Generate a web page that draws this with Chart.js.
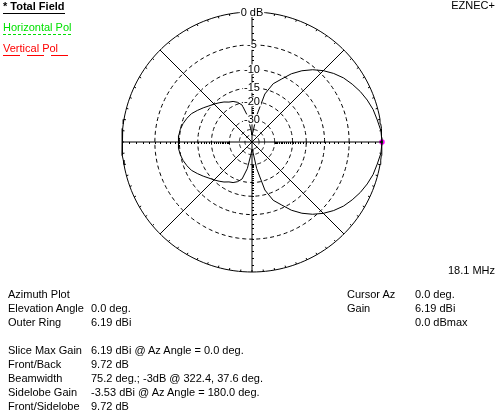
<!DOCTYPE html>
<html>
<head>
<meta charset="utf-8">
<script src="https://cdn.jsdelivr.net/npm/chart.js@4.4.1/dist/chart.umd.min.js"></script>
<style>
body { margin: 0; background: #fff; font-family: "Liberation Sans", Arial, sans-serif; font-size: 11px; color: #000; }
#wrap { position: relative; width: 497px; height: 412px; overflow: hidden; }
#plot { position: absolute; left: 0; top: 0; }
.t { position: absolute; white-space: pre; line-height: 14px; }
</style>
</head>
<body>
<div id="wrap">
  <canvas id="plot" width="497" height="412"></canvas>
  <div id="texts"></div>
</div>
<script>
// azimuth (deg, CCW from right) and gain relative to outer ring (dB)
const azimuths = [0, 5, 10, 15, 20, 25, 30, 35, 40, 45, 50, 55, 60, 65, 70, 75, 80, 85, 90, 95,
  100, 105, 110, 115, 120, 125, 130, 135, 140, 145, 150, 155, 160, 165, 170, 175, 180,
  185, 190, 195, 200, 205, 210, 215, 220, 225, 230, 235, 240, 245, 250, 255, 260, 265,
  270, 275, 280, 285, 290, 295, 300, 305, 310, 315, 320, 325, 330, 335, 340, 345, 350, 355, 360];
const totalField = [0, -0.08, -0.38, -0.62, -1.0, -1.45, -2.0, -2.6, -3.4, -4.35, -5.5, -6.9, -8.6, -10.8, -12.7, -16.5, -27, -45, -50, -40,
  -27, -21, -19.3, -18.3, -17.8, -16.8, -16.0, -15.2, -14.4, -13.4, -12.4, -11.4, -10.8, -10.3, -9.95, -9.78, -9.72,
  -9.78, -9.95, -10.3, -10.8, -11.4, -12.4, -13.4, -14.4, -15.2, -16.0, -16.8, -17.8, -18.3, -19.3, -21, -27, -40,
  -50, -45, -27, -16.5, -12.7, -10.8, -8.6, -6.9, -5.5, -4.35, -3.4, -2.6, -2.0, -1.45, -1.0, -0.62, -0.38, -0.08, 0];

const ringDb = [-5, -10, -15, -20, -30, -40, -50];
const ringLabels = ['0 dB', '-5', '-10', '-15', '-20', '-30'];
const ringLabelDb = [0, -5, -10, -15, -20, -30];
const cursorAz = [0];
const cursorDb = [0];

// ARRL log scale radius
function arrl(db) { return Math.pow(0.89, -db / 2); }
function pt(az, db) {
  const r = arrl(db), a = az * Math.PI / 180;
  return { x: r * Math.cos(a), y: r * Math.sin(a) };
}
function circle(db) {
  const out = [];
  for (let a = 0; a <= 360; a += 2) out.push(pt(a, db));
  return out;
}

const datasets = [];
datasets.push({ data: circle(0), borderColor: '#000', borderWidth: 1 });
ringDb.forEach(function(d) {
  datasets.push({ data: circle(d), borderColor: '#000', borderWidth: 1, borderDash: [4, 3] });
});
[0, 45, 90, 135].forEach(function(a) {
  datasets.push({ data: [pt(a, 0), pt(a + 180, 0)], borderColor: '#000', borderWidth: 1 });
});
datasets.push({
  data: azimuths.map(function(a, i) { return pt(a, totalField[i]); }),
  borderColor: '#000', borderWidth: 1
});
datasets.push({
  data: cursorAz.map(function(a, i) { return pt(a, cursorDb[i]); }),
  showLine: false, pointRadius: 2, pointBackgroundColor: '#00e000', pointBorderColor: '#ff00ff', pointBorderWidth: 1.5
});
datasets.forEach(function(ds) {
  if (ds.showLine === undefined) ds.showLine = true;
  if (ds.pointRadius === undefined) ds.pointRadius = 0;
  ds.clip = false;
  ds.tension = 0;
});

const gridExtras = {
  id: 'gridExtras',
  afterDatasetsDraw(chart) {
    const ctx = chart.ctx, sx = chart.scales.x, sy = chart.scales.y;
    const cx = sx.getPixelForValue(0), cy = sy.getPixelForValue(0);
    const R = sx.getPixelForValue(1) - cx;
    ctx.save();
    ctx.strokeStyle = '#000';
    ctx.lineWidth = 1;
    ctx.beginPath();
    // outer ring ticks every 5 deg
    for (let a = 0; a < 360; a += 5) {
      const r = a * Math.PI / 180;
      ctx.moveTo(cx + R * Math.cos(r), cy - R * Math.sin(r));
      ctx.lineTo(cx + (R - 2) * Math.cos(r), cy - (R - 2) * Math.sin(r));
    }
    // axis ticks every 1 dB
    for (let d = -1; d >= -30; d--) {
      const r = arrl(d) * R;
      ctx.moveTo(Math.round(cx + r) + 0.5, cy); ctx.lineTo(Math.round(cx + r) + 0.5, cy + 2);
      ctx.moveTo(Math.round(cx - r) + 0.5, cy); ctx.lineTo(Math.round(cx - r) + 0.5, cy + 2);
      ctx.moveTo(cx, Math.round(cy + r) + 0.5); ctx.lineTo(cx + 2, Math.round(cy + r) + 0.5);
      ctx.moveTo(cx, Math.round(cy - r) + 0.5); ctx.lineTo(cx + 2, Math.round(cy - r) + 0.5);
    }
    ctx.stroke();
    // ring labels
    ctx.font = '11px "Liberation Sans", Arial, sans-serif';
    ctx.textAlign = 'center';
    ctx.textBaseline = 'middle';
    ringLabels.forEach(function(lbl, i) {
      const y = sy.getPixelForValue(arrl(ringLabelDb[i]));
      const w = ctx.measureText(lbl).width;
      ctx.fillStyle = '#fff';
      ctx.fillRect(cx - w / 2 - 1, y - 5, w + 2, 10);
      ctx.fillStyle = '#000';
      ctx.fillText(lbl, cx, y + 0.5);
    });
    ctx.restore();
  }
};

new Chart(document.getElementById('plot'), {
  type: 'scatter',
  data: { datasets: datasets },
  options: {
    responsive: false,
    animation: false,
    devicePixelRatio: 1,
    layout: { padding: { left: 122, top: 12, right: 115, bottom: 140 } },
    scales: {
      x: { type: 'linear', min: -1, max: 1, display: false },
      y: { type: 'linear', min: -1, max: 1, display: false }
    },
    plugins: { legend: { display: false }, tooltip: { enabled: false } }
  },
  plugins: [gridExtras]
});

// text blocks
const infoLeft = [
  ['Azimuth Plot', ''],
  ['Elevation Angle', '0.0 deg.'],
  ['Outer Ring', '6.19 dBi'],
  ['', ''],
  ['Slice Max Gain', '6.19 dBi @ Az Angle = 0.0 deg.'],
  ['Front/Back', '9.72 dB'],
  ['Beamwidth', '75.2 deg.; -3dB @ 322.4, 37.6 deg.'],
  ['Sidelobe Gain', '-3.53 dBi @ Az Angle = 180.0 deg.'],
  ['Front/Sidelobe', '9.72 dB']
];
const infoRight = [
  ['Cursor Az', '0.0 deg.'],
  ['Gain', '6.19 dBi'],
  ['', '0.0 dBmax']
];

const box = document.getElementById('texts');
function addText(txt, x, y, style) {
  const d = document.createElement('div');
  d.className = 't';
  d.textContent = txt;
  d.style.left = x + 'px';
  d.style.top = y + 'px';
  if (style) Object.assign(d.style, style);
  box.appendChild(d);
  return d;
}
infoLeft.forEach(function(r, i) {
  addText(r[0], 8, 287 + i * 14);
  addText(r[1], 91, 287 + i * 14);
});
infoRight.forEach(function(r, i) {
  addText(r[0], 347, 287 + i * 14);
  addText(r[1], 415, 287 + i * 14);
});
addText('EZNEC+', 'auto', -2, { left: 'auto', right: '2px' });
addText('18.1 MHz', 'auto', 263, { left: 'auto', right: '2px' });

addText('* Total Field', 3, -1, { fontWeight: 'bold', borderBottom: '1px solid #000', paddingBottom: '0px' });
addText('Horizontal Pol', 3, 20, { color: '#00e000', borderBottom: '1px dashed #00e000' });
addText('Vertical Pol', 3, 41, { color: '#ff0000' });
const vu = document.createElement('div');
vu.style.cssText = 'position:absolute;left:3px;top:55px;width:65px;height:1px;background:repeating-linear-gradient(90deg,#ff0000 0 17px,transparent 17px 24px);';
box.appendChild(vu);
</script>
</body>
</html>
